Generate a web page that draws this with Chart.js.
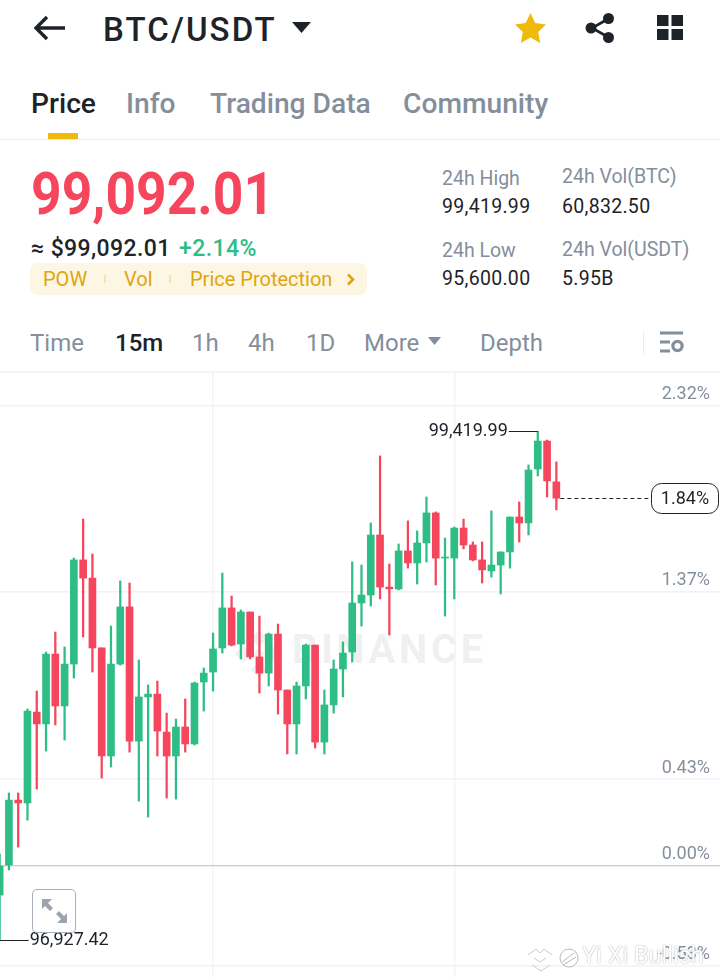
<!DOCTYPE html>
<html>
<head>
<meta charset="utf-8">
<title>BTC/USDT</title>
<script src="https://cdn.jsdelivr.net/npm/chart.js@4"></script>
<style>
html, body { margin: 0; padding: 0; background: #fff; }
body { width: 720px; height: 977px; position: relative; overflow: hidden; font-family: Roboto, sans-serif; color: #1E2329; }
.t { position: absolute; white-space: nowrap; line-height: 1; }
.grey { color: #848E9C; }
.gold { color: #DFA50F; font-size: 20px; top: 269px; }
.stat { font-size: 19.5px; }
.val { font-size: 19.5px; letter-spacing: 0.3px; }
.tab { top: 90px; font-size: 28.2px; font-weight: 500; }
.bar { position: absolute; }
svg { position: absolute; }
#chartBox { position: absolute; left: -5px; top: 372px; width: 733px; height: 605px; }
</style>
</head>
<body>

<!-- header -->
<svg style="left:33px;top:14px" width="34" height="28" viewBox="0 0 34 28"><path d="M14 3 L3 14 L14 25 M3 14 H32" fill="none" stroke="#1E2329" stroke-width="3.4"/></svg>
<div class="t" style="left:103px;top:13px;font-size:33px;font-weight:500;letter-spacing:2.1px">BTC/USDT</div>
<svg style="left:291px;top:21px" width="21" height="13" viewBox="0 0 21 13"><path d="M1 1 H20 L10.5 12 Z" fill="#1E2329"/></svg>
<svg style="left:514px;top:12px" width="33" height="32" viewBox="0 0 33 32"><path d="M16.5 1 L21.3 11 L32 12.4 L24.2 20 L26.2 31 L16.5 25.6 L6.8 31 L8.8 20 L1 12.4 L11.7 11 Z" fill="#F0B90B"/></svg>
<svg style="left:584px;top:12px" width="32" height="32" viewBox="0 0 32 32"><path d="M24 7 L8 16 L24 25" fill="none" stroke="#1E2329" stroke-width="2.6"/><circle cx="24.5" cy="6.5" r="5.5" fill="#1E2329"/><circle cx="7" cy="16" r="5.5" fill="#1E2329"/><circle cx="24.5" cy="25.5" r="5.5" fill="#1E2329"/></svg>
<svg style="left:656px;top:14px" width="28" height="27" viewBox="0 0 28 27"><rect x="1" y="1" width="11.5" height="11" fill="#1E2329"/><rect x="15.5" y="1" width="11.5" height="11" fill="#1E2329"/><rect x="1" y="15" width="11.5" height="11" fill="#1E2329"/><rect x="15.5" y="15" width="11.5" height="11" fill="#1E2329"/></svg>

<!-- tabs -->
<div class="t tab" style="left:31px">Price</div>
<div class="t tab grey" style="left:126px">Info</div>
<div class="t tab grey" style="left:210px">Trading Data</div>
<div class="t tab grey" style="left:403px">Community</div>
<div class="bar" style="left:48px;top:133px;width:30px;height:6px;background:#F0B90B"></div>
<div class="bar" style="left:0;top:139px;width:720px;height:1px;background:#EAECEF"></div>

<!-- price block -->
<div class="t" style="left:31px;top:164px;font-size:60px;font-weight:700;color:#F6465D;transform:scaleX(0.89);transform-origin:left">99,092.01</div>
<div class="t" style="left:31px;top:237px;font-size:23px;font-weight:500;letter-spacing:0.4px">≈ $99,092.01</div>
<div class="t" style="left:179px;top:237px;font-size:23px;font-weight:500;letter-spacing:0.4px;color:#2EBD85">+2.14%</div>
<div class="bar" style="left:30px;top:263px;width:337px;height:32px;background:#FDF6E3;border-radius:8px"></div>
<div class="t gold" style="left:43px">POW</div>
<div class="bar" style="left:104px;top:275px;width:2px;height:8px;background:#F5E3B0"></div>
<div class="t gold" style="left:124px">Vol</div>
<div class="bar" style="left:169px;top:275px;width:2px;height:8px;background:#F5E3B0"></div>
<div class="t gold" style="left:190px">Price Protection</div>
<svg style="left:346px;top:273px" width="10" height="13" viewBox="0 0 10 13"><path d="M2 1.5 L7 6.5 L2 11.5" fill="none" stroke="#DFA50F" stroke-width="2.6"/></svg>

<div class="t grey stat" style="left:442px;top:169px">24h High</div>
<div class="t val" style="left:442px;top:197px">99,419.99</div>
<div class="t grey stat" style="left:442px;top:241px">24h Low</div>
<div class="t val" style="left:442px;top:269px">95,600.00</div>
<div class="t grey stat" style="left:562px;top:167px">24h Vol(BTC)</div>
<div class="t val" style="left:562px;top:197px">60,832.50</div>
<div class="t grey stat" style="left:562px;top:240px">24h Vol(USDT)</div>
<div class="t val" style="left:562px;top:269px">5.95B</div>

<!-- interval row -->
<div class="t grey" style="left:30px;top:331px;font-size:24px">Time</div>
<div class="t" style="left:115px;top:331px;font-size:24px;font-weight:500">15m</div>
<div class="t grey" style="left:192px;top:331px;font-size:24px">1h</div>
<div class="t grey" style="left:248px;top:331px;font-size:24px">4h</div>
<div class="t grey" style="left:306px;top:331px;font-size:24px">1D</div>
<div class="t grey" style="left:364px;top:331px;font-size:24px">More</div>
<svg style="left:427px;top:336px" width="15" height="10" viewBox="0 0 15 10"><path d="M1 1 H14 L7.5 9 Z" fill="#848E9C"/></svg>
<div class="t grey" style="left:480px;top:331px;font-size:24px">Depth</div>
<div class="bar" style="left:643px;top:331px;width:1px;height:23px;background:#EAECEF"></div>
<svg style="left:659px;top:330px" width="26" height="25" viewBox="0 0 26 25"><path d="M1 3 H24 M1 12 H11 M1 21 H11" stroke="#848E9C" stroke-width="3"/><circle cx="18.5" cy="16" r="4.6" fill="none" stroke="#848E9C" stroke-width="3.2"/></svg>
<div class="bar" style="left:0;top:371px;width:720px;height:2px;background:#F3F4F5"></div>

<div id="chartBox"><canvas id="klineChart" width="733" height="605"></canvas></div>

<!-- expand button -->
<div class="bar" style="left:32px;top:889px;width:42px;height:42px;border:1.5px solid #A9AEB8;border-radius:5px;background:#fff"></div>
<svg style="left:40px;top:897px" width="29" height="28" viewBox="0 0 29 28"><path d="M2 2 H12 L8 6 L13 11 L10 14 L5 9 L2 12 Z M27 26 H17 L21 22 L16 17 L19 14 L24 19 L27 16 Z" fill="#9EA4AE"/></svg>

<!-- screenshot watermark -->
<svg style="left:527px;top:944px" width="54" height="30" viewBox="0 0 54 30"><path d="M1 11 L9 5 L13 9 L17 5 L25 11 M7 14 L13 18 L19 14 M5 21 L14 27 L23 21" fill="none" stroke="#C9CCD1" stroke-width="1"/><circle cx="42" cy="14" r="9" fill="#fff" stroke="#B5B8BD" stroke-width="1"/><path d="M35 18 L47 9 M36 21 L49 13" stroke="#B5B8BD" stroke-width="1"/></svg>
<div class="t" style="left:582px;top:944px;font-size:23.5px;color:#fff;text-shadow:0 0 1.5px #8d9096">Yi Xi Bullish</div>

<script>
const upColor = "#2EBD85";
const downColor = "#F6465D";

// ===== CANDLES (USDT) =====
const opens = [
    97149, 97296, 97614, 97600, 98045, 97987, 98329, 98075, 98280, 98790,
    98701, 98359, 97830, 98280, 98560, 97903, 98119, 98133, 97947, 97830,
    97972, 97889, 98192, 98241, 98359, 98555, 98378, 98535, 98315, 98236,
    98427, 98153, 97987, 98173, 98373, 97898, 98080, 98256, 98339, 98579,
    98618, 98912, 98657, 98648, 98834, 98775, 98873, 99020, 98799, 98799,
    98946, 98863, 98790, 98736, 98765, 98829, 99000, 98971, 99235, 99372,
    99172
];
const highs = [
    97350, 97649, 97649, 98060, 98148, 98339, 98437, 98364, 98799, 98990,
    98819, 98359, 98466, 98687, 98677, 98300, 98178, 98197, 98040, 98011,
    98109, 98192, 98261, 98432, 98726, 98613, 98545, 98535, 98515, 98432,
    98476, 98153, 98192, 98378, 98373, 98153, 98300, 98388, 98780, 98765,
    98971, 99299, 98770, 98868, 98981, 98932, 99098, 99025, 98897, 98951,
    98990, 98878, 98878, 99030, 98829, 99000, 99074, 99255, 99419.99, 99377,
    99270
];
const lows = [
    96927.42, 97272, 97384, 97516, 97668, 97854, 97982, 97908, 98212, 98413,
    98241, 97722, 97776, 98275, 97849, 97609, 97531, 97830, 97624, 97619,
    97849, 97884, 98050, 98148, 98334, 98369, 98305, 98305, 98138, 98173,
    98035, 97840, 97840, 98109, 97869, 97840, 98040, 98119, 98290, 98466,
    98564, 98599, 98422, 98643, 98750, 98672, 98780, 98667, 98515, 98599,
    98844, 98785, 98677, 98706, 98623, 98750, 98878, 98912, 99201, 99098,
    99035
];
const closes = [
    97291, 97614, 97600, 98050, 97987, 98329, 98075, 98280, 98790, 98701,
    98359, 97830, 98280, 98560, 97903, 98119, 98133, 97952, 97830, 97972,
    97889, 98187, 98236, 98354, 98555, 98373, 98535, 98315, 98236, 98427,
    98153, 97987, 98173, 98373, 97898, 98080, 98256, 98334, 98579, 98618,
    98912, 98657, 98648, 98834, 98775, 98873, 99020, 98799, 98804, 98946,
    98863, 98790, 98741, 98765, 98829, 99000, 98971, 99230, 99372, 99177,
    99092.01
];

// ===== AXIS =====
const gridPrices = [99544, 98633, 97717, 97294, 96803];
const gridLabels = ["2.32%", "1.37%", "0.43%", "0.00%", "-0.53%"];
const zeroPrice = 97294;
const verticalGridAt = [23, 49];
const slotCount = 79; // candles plus the empty space on the right
const categories = Array.from({ length: slotCount }, (_, i) => i);

// ===== MARKERS =====
const highLabel = "99,419.99";
const lowLabel = "96,927.42";
const lastLabel = "1.84%";

const candleColors = closes.map((c, i) => (c >= opens[i] ? upColor : downColor));

// ===== WATERMARK + PRICE MARKERS =====
const chartMarks = {
    id: "chartMarks",
    beforeDatasetsDraw(chart) {
        const ctx = chart.ctx;
        ctx.save();
        ctx.fillStyle = "#EFF0F1";
        ctx.font = "700 40px Roboto";
        ctx.letterSpacing = "3.6px";
        ctx.textAlign = "left";
        ctx.textBaseline = "middle";
        ctx.fillText("BINANCE", 297, 281);
        ctx.letterSpacing = "0px";
        // diamond logo
        ctx.translate(264, 282);
        ctx.rotate(Math.PI / 4);
        ctx.fillRect(-17, -17, 12, 12);
        ctx.fillRect(5, 5, 12, 12);
        ctx.fillRect(-4, -4, 8, 8);
        ctx.fillRect(5, -17, 12, 12);
        ctx.fillRect(-17, 5, 12, 12);
        ctx.restore();
    },
    afterDatasetsDraw(chart) {
        const ctx = chart.ctx;
        const xs = chart.scales.x;
        const ys = chart.scales.y;
        ctx.save();
        ctx.font = "18px Roboto";
        ctx.textBaseline = "middle";
        ctx.strokeStyle = "#1E2329";
        ctx.fillStyle = "#1E2329";
        ctx.lineWidth = 1;

        // highest price
        const hi = highs.indexOf(Math.max(...highs));
        const hx = xs.getPixelForValue(hi);
        const hy = Math.round(ys.getPixelForValue(highs[hi])) + 0.5;
        ctx.beginPath();
        ctx.moveTo(hx, hy);
        ctx.lineTo(hx - 29, hy);
        ctx.stroke();
        ctx.textAlign = "right";
        ctx.fillText(highLabel, hx - 30, hy);

        // lowest price
        const lo = lows.indexOf(Math.min(...lows));
        const lx = xs.getPixelForValue(lo);
        const ly = Math.round(ys.getPixelForValue(lows[lo])) + 0.5;
        ctx.beginPath();
        ctx.moveTo(lx, ly);
        ctx.lineTo(lx + 29, ly);
        ctx.stroke();
        ctx.textAlign = "left";
        ctx.fillText(lowLabel, lx + 30, ly);

        // last price
        const last = closes.length - 1;
        const ex = xs.getPixelForValue(last) + 4;
        const ey = Math.round(ys.getPixelForValue(closes[last])) + 0.5;
        ctx.setLineDash([4, 3]);
        ctx.beginPath();
        ctx.moveTo(ex, ey);
        ctx.lineTo(655, ey);
        ctx.stroke();
        ctx.setLineDash([]);
        ctx.beginPath();
        ctx.roundRect(656.5, ey - 15, 67, 30, 10);
        ctx.fillStyle = "#fff";
        ctx.fill();
        ctx.stroke();
        ctx.fillStyle = "#1E2329";
        ctx.textAlign = "center";
        ctx.fillText(lastLabel, 690, ey + 1);
        ctx.restore();
    }
};

new Chart(document.getElementById("klineChart"), {
    type: "bar",
    data: {
        labels: categories,
        datasets: [
            {
                label: "Wick",
                data: lows.map((l, i) => [l, highs[i]]),
                backgroundColor: candleColors,
                barThickness: 1.6,
                grouped: false,
                borderSkipped: false,
                order: 2
            },
            {
                label: "Body",
                data: opens.map((o, i) => [o, closes[i]]),
                backgroundColor: candleColors,
                barThickness: 7,
                grouped: false,
                borderSkipped: false,
                order: 1
            }
        ]
    },
    options: {
        responsive: false,
        animation: false,
        layout: { padding: 0 },
        plugins: {
            legend: { display: false },
            tooltip: { enabled: false }
        },
        scales: {
            x: {
                offset: true,
                border: { display: false },
                grid: {
                    offset: false,
                    drawTicks: false,
                    color: ctx => (verticalGridAt.includes(ctx.index) ? "#F2F3F4" : "rgba(0,0,0,0)"),
                    lineWidth: 1.5
                },
                ticks: { display: false, autoSkip: false }
            },
            y: {
                position: "right",
                min: 96748,
                max: 99710,
                border: { display: false },
                afterBuildTicks: scale => {
                    scale.ticks = gridPrices.map(v => ({ value: v }));
                },
                // mirrored labels sit inside the plot, the axis takes no room
                afterFit: scale => {
                    scale.width = 0;
                    scale.paddingTop = 0;
                    scale.paddingBottom = 0;
                },
                grid: {
                    drawTicks: false,
                    color: ctx => (ctx.tick && ctx.tick.value === zeroPrice ? "#C9CBD3" : "#F1F2F3"),
                    lineWidth: ctx => (ctx.tick && ctx.tick.value === zeroPrice ? 1.2 : 1.5)
                },
                ticks: {
                    mirror: true,
                    padding: -18,
                    labelOffset: -11,
                    color: "#848E9C",
                    font: { family: "Roboto", size: 18 },
                    callback: value => gridLabels[gridPrices.indexOf(value)]
                }
            }
        }
    },
    plugins: [chartMarks]
});
</script>
</body>
</html>
